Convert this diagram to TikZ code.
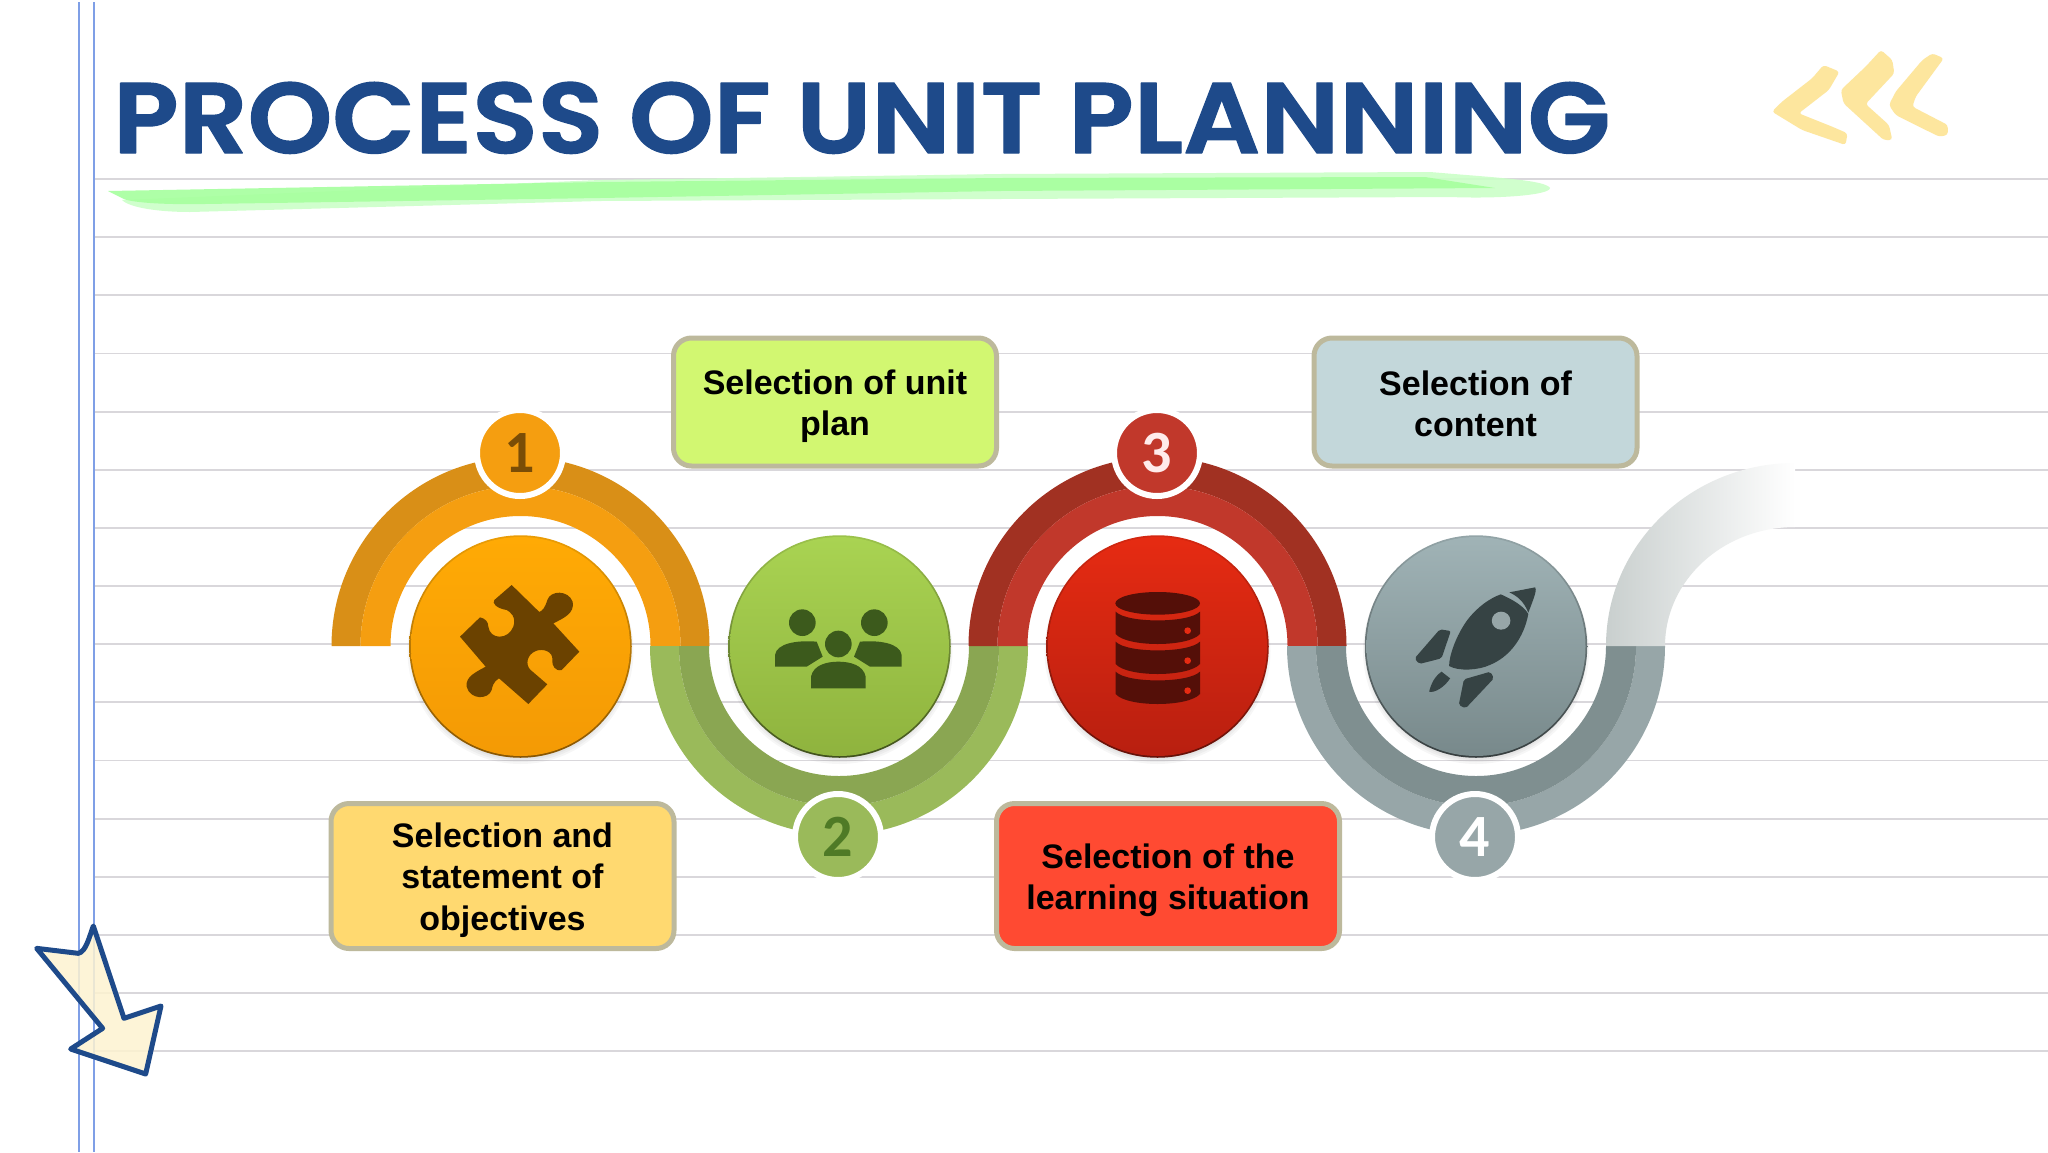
\documentclass[tikz,border=0pt]{standalone}
\usepackage{fontspec}
\usepackage{graphicx}
\setmainfont{Liberation Sans}
\newfontfamily\titlefont[FakeBold=1.2]{Poppins SemiBold}
\newfontfamily\numfont{Carlito}
\definecolor{rule}{HTML}{D9D7DB}
\definecolor{margin}{HTML}{7F9FE6}
\definecolor{navy}{HTML}{1E4A8A}
\definecolor{chev}{HTML}{FDE69E}
\definecolor{cream}{HTML}{FDF3D0}
\definecolor{boxedge}{HTML}{BDB99C}
\definecolor{hlA}{HTML}{CBFFC8}
\definecolor{hlB}{HTML}{A6FF9E}
\definecolor{orgA}{HTML}{D98F17}\definecolor{orgB}{HTML}{F59E10}
\definecolor{grnA}{HTML}{9ABA5A}\definecolor{grnB}{HTML}{8AA652}
\definecolor{redA}{HTML}{A13122}\definecolor{redB}{HTML}{C1382B}
\definecolor{gryA}{HTML}{97A6A8}\definecolor{gryB}{HTML}{7F8F90}
\definecolor{orgT}{HTML}{FFAA05}\definecolor{orgE}{HTML}{F49A05}
\definecolor{grnT}{HTML}{A9D352}\definecolor{grnE}{HTML}{8FB33E}
\definecolor{redT}{HTML}{E62B12}\definecolor{redE}{HTML}{B81F10}
\definecolor{gryT}{HTML}{A0B3B6}\definecolor{gryE}{HTML}{78898B}
\definecolor{puz}{HTML}{6B4200}
\definecolor{ppl}{HTML}{3C5A1C}
\definecolor{dbk}{HTML}{540F08}
\definecolor{rkt}{HTML}{364344}
\definecolor{fadeG}{HTML}{C9CFCE}
\definecolor{numO}{HTML}{7A4D06}
\definecolor{numG}{HTML}{4F7A26}
\definecolor{boxY}{HTML}{FFD970}
\definecolor{boxL}{HTML}{D2F771}
\definecolor{boxR}{HTML}{FF4A32}
\definecolor{boxB}{HTML}{C3D7DA}
\tikzset{
  labelbox/.style={draw=boxedge,line width=5pt,rounded corners=18pt,align=center,
    font=\fontsize{34}{41.4}\selectfont\bfseries,text=black,inner sep=0pt},
  badge/.style={circle,draw=white,line width=6pt,minimum size=86pt,inner sep=0pt,
    font=\numfont\fontsize{60}{60}\selectfont\bfseries},
  disc/.style={circle,minimum size=219pt,inner sep=0pt},
  discrim/.style={circle,minimum size=222.5pt,inner sep=0pt},
  ruled/.style={draw=rule,line width=1.8pt}
}
% centre x, direction (-1 up / 1 down), outer colour, inner colour
\newcommand{\band}[4]{%
  \fill[#3] ({#1+189},646) arc (0:#2*180:189) -- ({#1-160},646) arc (#2*180:0:160) -- cycle;
  \fill[#4] ({#1+160},646) arc (0:#2*180:160) -- ({#1-130},646) arc (#2*180:0:130) -- cycle;
}
\newcommand{\softshadow}[1]{%
  \foreach \s in {113,111,109,107}{\fill[black,opacity=.035] (#1,651) circle (\s);}
}
\newcommand{\upstrut}[1]{\rule{0pt}{#1pt}}
\begin{document}
\begin{tikzpicture}[x=1pt,y=-1pt]
\useasboundingbox (0,0) rectangle (2048,1152);
\fill[white] (0,0) rectangle (2048,1152);
% ruled paper
\foreach \k in {0,...,15}{\draw[ruled] (94,{179+58.15*\k}) -- (2048,{179+58.15*\k});}
\draw[margin,line width=1.6pt] (79,2) -- (79,1152);
\draw[margin,line width=1.6pt] (94,2) -- (94,1152);
% underline stroke
\fill[hlA,fill opacity=.9]
  (122,200) .. controls (130,208) and (160,212) .. (190,212) -- (600,201) -- (1000,199) -- (1450,197)
  .. controls (1500,199) and (1550,195) .. (1550,188) .. controls (1545,180) and (1500,178) .. (1430,172)
  -- (1000,174) -- (600,180) -- cycle;
\fill[hlB,fill opacity=.9]
  (108,191) -- (600,182) -- (1000,178) -- (1425,177) -- (1495,188) -- (1000,191) -- (600,198) -- (205,204)
  .. controls (150,205) and (125,201) .. (122,198) -- cycle;
% title
\node[anchor=base west,inner sep=0pt,text=navy] (title) at (113,153)
  {\special{pdf:code 1 j 1 J}\resizebox{1497pt}{71pt}{\titlefont PROCESS OF UNIT PLANNING}};
% chevrons
\begin{scope}[shift={(1000,0)},xscale=1/1.496,yscale=1/3]
\fill[chev,rounded corners=3pt] (1232,195)--(1256,215)--(1240,270)--(1195,340)--(1245,380)--(1268,400)--(1265,435)--(1200,390)--(1155,335)--(1170,305)--(1215,235)--cycle;
\fill[chev,rounded corners=3pt] (1318,150)--(1335,180)--(1338,220)--(1295,312)--(1330,375)--(1335,420)--(1322,420)--(1262,310)--(1258,270)--(1295,200)--cycle;
\fill[chev,rounded corners=3pt] (1395,160)--(1412,175)--(1370,290)--(1365,320)--(1418,375)--(1418,405)--(1405,410)--(1340,345)--(1330,315)--(1340,275)--(1380,180)--cycle;
\end{scope}
% hand-drawn arrow
\begin{scope}[shift={(0,900)},scale=1/3]
\fill[cream,fill opacity=.85] (110,145)--(235,160)..controls (258,155) and (268,110)..(280,78)--(372,355)--(483,318)--(437,522)--(212,447)--(308,385)--cycle;
\draw[navy,line width=5pt,line join=round] (110,145)--(235,160)..controls (258,155) and (268,110)..(280,78)--(372,355)--(483,318)--(437,522)--(212,447)--(308,385)--cycle;
\end{scope}
% bands
\band{520.5}{-1}{orgA}{orgB}
\band{839}{1}{grnA}{grnB}
\band{1157.5}{-1}{redA}{redB}
\band{1476}{1}{gryA}{gryB}
\shade[left color=fadeG,right color=white]
  (1606,646) arc (180:270:189 and 183) -- (1795,527) arc (270:180:130 and 119) -- cycle;
% discs
\softshadow{520.5}\softshadow{839.5}\softshadow{1157.5}\softshadow{1476}
\node[discrim,top color=orgT!92!black,bottom color=orgE!55!black] (r1) at (520.5,646.5) {};
\node[discrim,top color=grnT!92!black,bottom color=grnE!45!black] (r2) at (839.5,646.5) {};
\node[discrim,top color=redT!92!black,bottom color=redE!55!black] (r3) at (1157.5,646.5) {};
\node[discrim,top color=gryT!92!black,bottom color=gryE!45!black] (r4) at (1476,646.5) {};
\node[disc,top color=orgT,bottom color=orgE] (d1) at (520.5,646.5) {};
\node[disc,top color=grnT,bottom color=grnE] (d2) at (839.5,646.5) {};
\node[disc,top color=redT,bottom color=redE] (d3) at (1157.5,646.5) {};
\node[disc,top color=gryT,bottom color=gryE] (d4) at (1476,646.5) {};
% puzzle icon
\begin{scope}[shift={(310,400)},scale=1/3]
\fill[puz] (605,555) -- (688,636) .. controls (700,630) and (705,622) .. (712,600)
  .. controls (722,570) and (775,570) .. (788,605) .. controls (795,640) and (760,655) .. (730,670)
  -- (808,755) -- (755,810) .. controls (735,815) and (725,795) .. (727,780)
  .. controls (730,755) and (700,745) .. (680,752) .. controls (650,762) and (645,795) .. (662,810)
  -- (712,853) -- (655,912) -- (567,835) .. controls (550,845) and (547,860) .. (545,870)
  .. controls (535,900) and (480,900) .. (470,860) .. controls (465,830) and (500,815) .. (527,800)
  -- (450,710) -- (510,652) .. controls (525,655) and (535,665) .. (535,680)
  .. controls (540,720) and (595,720) .. (610,680) .. controls (620,650) and (600,635) .. (590,630)
  .. controls (560,625) and (545,610) .. (553,600) -- cycle;
\end{scope}
% people icon
\begin{scope}[shift={(640,500)},scale=1/3]
\fill[ppl] (487,368) circle (40) (703,368) circle (40) (595,432) circle (40);
\fill[ppl] (405,500) -- (405,465) .. controls (410,430) and (470,420) .. (530,425) -- (548,470) -- (500,500) -- cycle;
\fill[ppl] (785,500) -- (785,465) .. controls (780,430) and (720,420) .. (660,425) -- (642,470) -- (690,500) -- cycle;
\fill[ppl] (513,565) -- (513,530) .. controls (520,495) and (560,485) .. (595,485) .. controls (630,485) and (670,495) .. (677,530) -- (677,565) -- cycle;
\end{scope}
% database icon
\begin{scope}[shift={(1000,430)},scale=1/3]
\fill[dbk] (473,520) ellipse (127 and 34);
\foreach \d in {0,90,180}{
  \fill[dbk] (347,{545+\d}) .. controls (380,{580+\d}) and (565,{580+\d}) .. (600,{545+\d})
    -- (600,{612+\d}) .. controls (565,{652+\d}) and (380,{652+\d}) .. (347,{612+\d}) -- cycle;
  \fill[redT] (563,{602+\d}) circle (10);
}
\end{scope}
% rocket icon
\begin{scope}[shift={(1290,430)},xscale=1/2.904,yscale=1/3]
\fill[rkt] (612,493) .. controls (650,510) and (680,530) .. (692,552)
  .. controls (680,620) and (640,680) .. (580,705) .. controls (550,720) and (490,725) .. (462,708)
  .. controls (462,680) and (480,620) .. (515,570) .. controls (545,530) and (580,505) .. (612,493) -- cycle;
\fill[gryA] (613,572) circle (27);
\fill[rkt] (637,487) -- (712,472) .. controls (716,480) and (714,490) .. (692,548) .. controls (680,515) and (660,498) .. (637,487) -- cycle;
\fill[rkt,rounded corners=2pt] (362,685) -- (435,598) -- (467,603) -- (440,685) -- (375,702) -- cycle;
\fill[rkt] (404,785) .. controls (410,760) and (420,740) .. (440,725) -- (465,745) .. controls (450,770) and (420,790) .. (404,785) -- cycle;
\fill[rkt,rounded corners=2pt] (505,748) -- (582,725) -- (592,745) -- (510,835) -- (490,825) -- cycle;
\end{scope}
% number badges
\node[badge,fill=orgB,text=numO] (b1) at (520,453) {1};
\node[badge,fill=grnA,text=numG] (b2) at (838,837) {2};
\node[badge,fill=redB,text=white!92!red] (b3) at (1157,453) {3};
\node[badge,fill=gryA,text=white] (b4) at (1475,837) {4};
% label boxes
\node[labelbox,minimum width=343pt,minimum height=145pt,fill=boxY] (t1) at (502.5,876) {\upstrut{33}Selection and\\statement of\\objectives};
\node[labelbox,minimum width=323pt,minimum height=128pt,fill=boxL] (t2) at (835,402) {\upstrut{33}Selection of unit\\plan};
\node[labelbox,minimum width=343pt,minimum height=145pt,fill=boxR] (t3) at (1168,876) {\upstrut{33}Selection of the\\learning situation};
\node[labelbox,minimum width=323pt,minimum height=128pt,fill=boxB] (t4) at (1475.5,402) {\upstrut{28}Selection of\\content};
\end{tikzpicture}
\end{document}
